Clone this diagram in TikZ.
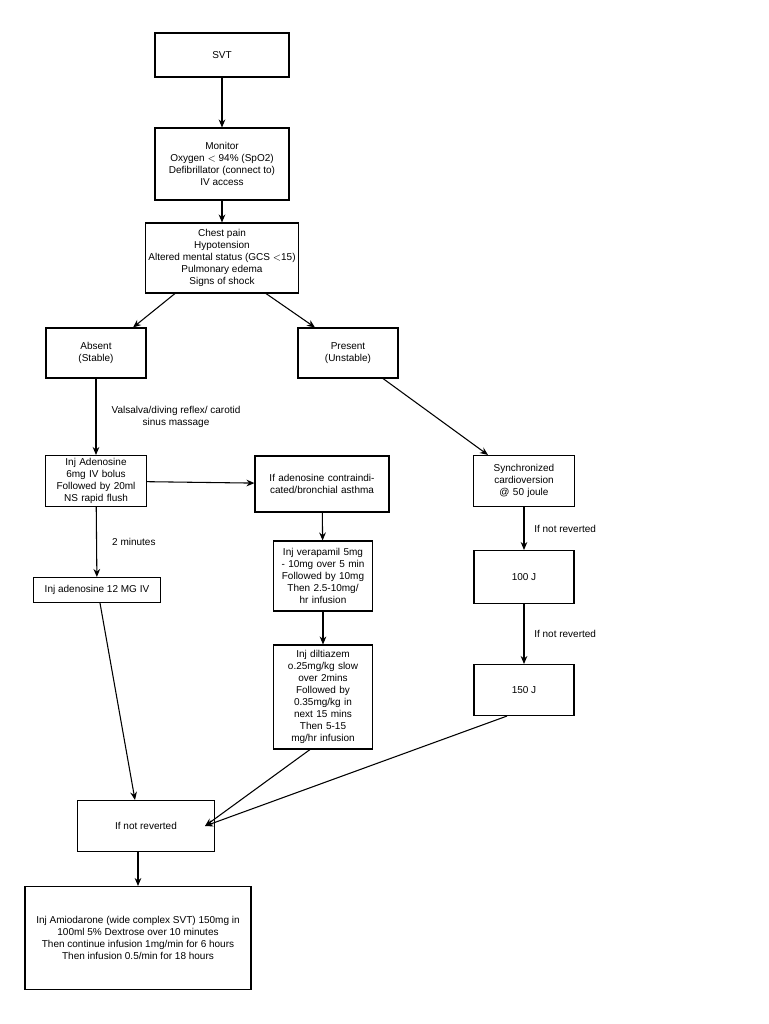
\documentclass[tikz,border=0pt]{standalone}
\usepackage{fontspec}
\setmainfont{Liberation Sans}
\usetikzlibrary{arrows.meta}
\begin{document}
\begin{tikzpicture}[x=0.75pt,y=-0.75pt,
 box/.style={draw,thick,fill=white,align=center,font=\fontsize{7.5}{9}\selectfont,inner sep=2pt},
 lab/.style={align=center,font=\fontsize{7.5}{9}\selectfont},
 arr/.style={-{Stealth[length=6pt,width=5pt]},thick}]
\useasboundingbox (0,0) rectangle (768,1024);
\node[box,minimum width=134*0.75pt,minimum height=44*0.75pt] (svt) at (222,55) {SVT};
\node[box,minimum width=134*0.75pt,minimum height=72*0.75pt] (mon) at (222,164) {Monitor\\Oxygen $<$ 94\% (SpO2)\\Defibrillator (connect to)\\IV access};
\node[box,minimum width=152*0.75pt,minimum height=70*0.75pt] (chest) at (222,258) {Chest pain\\Hypotension\\Altered mental status (GCS $<$15)\\Pulmonary edema\\Signs of shock};
\node[box,minimum width=100*0.75pt,minimum height=50*0.75pt] (abs) at (96,353) {Absent\\(Stable)};
\node[box,minimum width=100*0.75pt,minimum height=50*0.75pt] (pres) at (348,353) {Present\\(Unstable)};
\node[box,minimum width=100*0.75pt,minimum height=51*0.75pt,text width=95*0.75pt] (ad6) at (96,481) {Inj Adenosine 6mg IV bolus\\Followed by 20ml NS rapid flush};
\node[box,minimum width=134*0.75pt,minimum height=56*0.75pt,text width=120*0.75pt] (contra) at (322,484) {If adenosine contraindicated/bronchial asthma};
\node[box,minimum width=100*0.75pt,minimum height=51*0.75pt,text width=95*0.75pt] (sync) at (524,481) {Synchronized cardioversion @ 50 joule};
\node[box,minimum width=127*0.75pt,minimum height=25*0.75pt] (ad12) at (97,590) {Inj adenosine 12 MG IV};
\node[box,minimum width=98*0.75pt,minimum height=70*0.75pt,text width=94*0.75pt] (vera) at (323,576) {Inj verapamil 5mg - 10mg over 5 min\\Followed by 10mg\\Then 2.5-10mg/ hr infusion};
\node[box,minimum width=100*0.75pt,minimum height=53*0.75pt] (j100) at (524,577) {100 J};
\node[box,minimum width=98*0.75pt,minimum height=104*0.75pt,text width=94*0.75pt] (dil) at (323,697) {Inj diltiazem o.25mg/kg slow over 2mins\\Followed by 0.35mg/kg in next 15 mins\\Then 5-15 mg/hr infusion};
\node[box,minimum width=100*0.75pt,minimum height=51*0.75pt] (j150) at (524,690) {150 J};
\node[box,minimum width=137*0.75pt,minimum height=51*0.75pt] (nr) at (146,826) {If not reverted};
\node[box,minimum width=226*0.75pt,minimum height=103*0.75pt] (amio) at (138,938) {Inj Amiodarone (wide complex SVT) 150mg in\\100ml 5\% Dextrose over 10 minutes\\Then continue infusion 1mg/min for 6 hours\\Then infusion 0.5/min for 18 hours};
\coordinate (nrr) at (205,826);
\draw[arr] (svt) -- (mon);
\draw[arr] (mon) -- (chest);
\draw[arr] (chest.south -| 175,0) -- (abs.north -| 133,0);
\draw[arr] (chest.south -| 266,0) -- (pres.north -| 315,0);
\draw[arr] (abs) -- node[lab,right,xshift=8pt] {Valsalva/diving reflex/ carotid\\sinus massage} (ad6);
\draw[arr] (ad6) -- (contra);
\draw[arr] (pres.south -| 383,0) -- (sync.north -| 488,0);
\draw[arr] (ad6) -- node[lab,right,xshift=8pt] {2 minutes} (ad12);
\draw[arr] (contra) -- (vera);
\draw[arr] (vera) -- (dil);
\draw[arr] (sync) -- node[lab,right,xshift=4pt] {If not reverted} (j100);
\draw[arr] (j100) -- node[lab,right,xshift=4pt] {If not reverted} (j150);
\draw[arr] (ad12.south -| 100,0) -- (nr.north -| 135,0);
\draw[arr] (dil.south -| 310,0) -- (nrr);
\draw[arr] (j150.south -| 507,0) -- (nrr);
\draw[arr] (nr.south -| 138,0) -- (amio);
\end{tikzpicture}
\end{document}
